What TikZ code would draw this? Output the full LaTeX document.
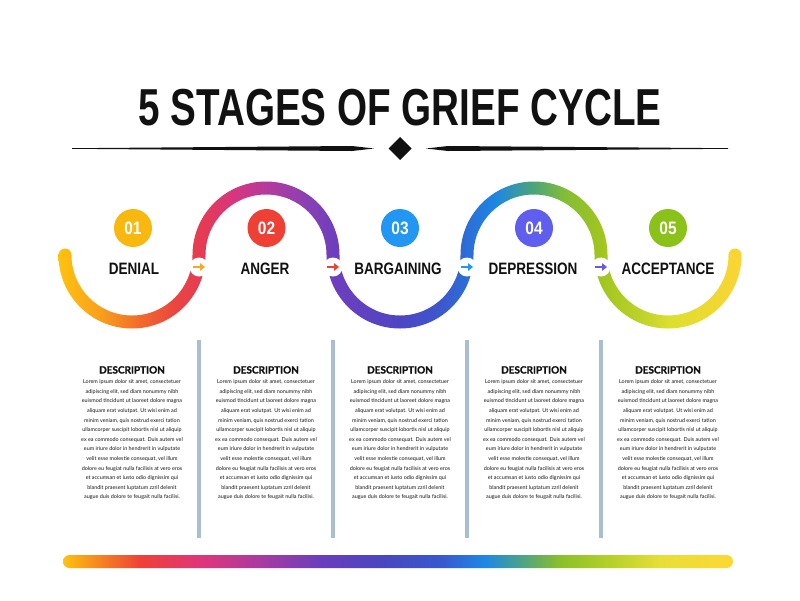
\documentclass[tikz,border=0pt]{standalone}
\usepackage{fontspec}
\setmainfont{Lato}
\newfontfamily\titlefont[FakeStretch=0.743]{Liberation Sans}
\newfontfamily\labfont[FakeStretch=0.82]{Liberation Sans}
\newfontfamily\numfont[FakeStretch=0.86]{Liberation Sans}
\newfontfamily\latofont{Lato}
\newfontfamily\latoheavy[FakeBold=1.2]{Lato}
\usetikzlibrary{arrows.meta}

\definecolor{titlec}{HTML}{111111}
\definecolor{bodyc}{HTML}{151515}
\definecolor{sepc}{HTML}{A9BED2}
\definecolor{c01}{HTML}{F9B80F}
\definecolor{c02}{HTML}{EE4035}
\definecolor{c03}{HTML}{2196F3}
\definecolor{c04}{HTML}{5F5EEF}
\definecolor{c05}{HTML}{8BC21A}
\definecolor{a01}{HTML}{F7A823}
\definecolor{a02}{HTML}{EF4136}
\definecolor{a03}{HTML}{2196F3}
\definecolor{a04}{HTML}{6A5AE0}

% wave colours
\definecolor{wa}{HTML}{FFC20E}
\definecolor{wb}{HTML}{F8A01C}
\definecolor{wc}{HTML}{F26A2B}
\definecolor{wd}{HTML}{EB4540}
\definecolor{we}{HTML}{E43A58}
\definecolor{wf}{HTML}{DA367A}
\definecolor{wg}{HTML}{B53A9C}
\definecolor{wh}{HTML}{9140B0}
\definecolor{wi}{HTML}{6D3FBE}
\definecolor{wj}{HTML}{4E45C3}
\definecolor{wk}{HTML}{3D57CD}
\definecolor{wl}{HTML}{2C6DD8}
\definecolor{wm}{HTML}{1E86E3}
\definecolor{wn}{HTML}{4BA677}
\definecolor{wo}{HTML}{84BD36}
\definecolor{wp}{HTML}{A0C520}
\definecolor{wq}{HTML}{BDD22A}
\definecolor{wr}{HTML}{DCDF30}
\definecolor{ws}{HTML}{FCD434}

% bar colours
\definecolor{ba}{HTML}{FFC20E}
\definecolor{bb}{HTML}{F7941D}
\definecolor{bc}{HTML}{EF4136}
\definecolor{bd}{HTML}{E0357A}
\definecolor{be}{HTML}{A93BA0}
\definecolor{bf}{HTML}{6A3DBD}
\definecolor{bg}{HTML}{4B46BF}
\definecolor{bh}{HTML}{3858CE}
\definecolor{bi}{HTML}{1E88E5}
\definecolor{bj}{HTML}{4AA28A}
\definecolor{bk}{HTML}{8BBF2A}
\definecolor{bl}{HTML}{B5D02A}
\definecolor{bm}{HTML}{E8DE38}
\definecolor{bn}{HTML}{FDD835}

\pgfdeclarehorizontalshading{waveshade}{100bp}{color(0bp)=(wa); color(25bp)=(wa); color(28.04bp)=(wb); color(30.97bp)=(wc); color(33.53bp)=(wd); color(35.72bp)=(we); color(37.55bp)=(wf); color(40.19bp)=(wg); color(42.68bp)=(wh); color(45.24bp)=(wi); color(50bp)=(wj); color(52.93bp)=(wk); color(54.83bp)=(wl); color(56.95bp)=(wm); color(59.81bp)=(wn); color(62.08bp)=(wo); color(64.64bp)=(wp); color(67.57bp)=(wq); color(69.77bp)=(wr); color(75bp)=(ws); color(100bp)=(ws)}

\pgfdeclarehorizontalshading{barshade}{100bp}{color(0bp)=(ba); color(25bp)=(ba); color(27.01bp)=(bb); color(30.75bp)=(bc); color(35.22bp)=(bd); color(39.70bp)=(be); color(44.18bp)=(bf); color(48.66bp)=(bg); color(53.13bp)=(bh); color(56.49bp)=(bi); color(59.10bp)=(bj); color(62.09bp)=(bk); color(65.82bp)=(bl); color(69.55bp)=(bm); color(75bp)=(bn); color(100bp)=(bn)}

\newcommand{\loremblock}{Lorem ipsum dolor sit amet, consectetuer\\
adipiscing elit, sed diam nonummy nibh\\
euismod tincidunt ut laoreet dolore magna\\
aliquam erat volutpat. Ut wisi enim ad\\
minim veniam, quis nostrud exerci tation\\
ullamcorper suscipit lobortis nisl ut aliquip\\
ex ea commodo consequat. Duis autem vel\\
eum iriure dolor in hendrerit in vulputate\\
velit esse molestie consequat, vel illum\\
dolore eu feugiat nulla facilisis at vero eros\\
et accumsan et iusto odio dignissim qui\\
blandit praesent luptatum zzril delenit\\
augue duis dolore te feugait nulla facilisi.}

\tikzset{
  numcirc/.style={circle, fill=#1, minimum size=38pt, inner sep=0pt, text=white,
    font=\numfont\bfseries\fontsize{18}{18}\selectfont},
  stagelabel/.style={anchor=base, inner sep=0pt, text=titlec,
    font=\labfont\bfseries\fontsize{16.5}{16.5}\selectfont},
  junction/.style={circle, fill=white, minimum size=19pt, inner sep=0pt},
  jarrow/.style={draw=#1, line width=2.4pt, -{Triangle[length=5pt,width=7.5pt,fill=#1]}},
  deschead/.style={anchor=base, inner sep=0pt, text=titlec,
    font=\latoheavy\bfseries\fontsize{10}{10}\selectfont},
  descbody/.style={anchor=north, inner sep=0pt, align=center, text=bodyc,
    font=\latofont\fontsize{5.4}{9.6}\selectfont},
  sepline/.style={draw=sepc, line width=4.5pt}
}

\begin{document}
\begin{tikzpicture}[x=1pt,y=-1pt]
\path[use as bounding box, fill=white] (0,0) rectangle (800,600);

% title
\node[anchor=base, inner sep=0pt, text=titlec,
      font=\titlefont\bfseries\fontsize{52}{52}\selectfont] (title) at (400,125) {5 STAGES OF GRIEF CYCLE};

% divider
\fill[titlec] (72,148.2) -- (352,146) -- (374,148.5) -- (352,151) -- (72,148.8) -- cycle;
\fill[titlec] (728,148.2) -- (448,146) -- (426,148.5) -- (448,151) -- (728,148.8) -- cycle;
\fill[titlec] (400,137) -- (411.5,148.5) -- (400,160) -- (388.5,148.5) -- cycle;

% wave band
\shade[shading=waveshade] (58.5,255)
  arc[start angle=180,end angle=0,radius=73.5]
  arc[start angle=180,end angle=360,radius=60.5]
  arc[start angle=180,end angle=0,radius=73.5]
  arc[start angle=180,end angle=360,radius=60.5]
  arc[start angle=180,end angle=0,radius=73.5]
  arc[start angle=0,end angle=-180,radius=6.5]
  arc[start angle=0,end angle=180,radius=60.5]
  arc[start angle=360,end angle=180,radius=73.5]
  arc[start angle=0,end angle=180,radius=60.5]
  arc[start angle=360,end angle=180,radius=73.5]
  arc[start angle=0,end angle=180,radius=60.5]
  arc[start angle=0,end angle=-180,radius=6.5] -- cycle;

% junctions
\node[junction] (j1) at (199,267) {};
\node[junction] (j2) at (333,267) {};
\node[junction] (j3) at (467,267) {};
\node[junction] (j4) at (601,267) {};
\draw[jarrow=a01] ([xshift=-6pt]j1.center) -- ([xshift=6pt]j1.center);
\draw[jarrow=a02] ([xshift=-6pt]j2.center) -- ([xshift=6pt]j2.center);
\draw[jarrow=a03] ([xshift=-6pt]j3.center) -- ([xshift=6pt]j3.center);
\draw[jarrow=a04] ([xshift=-6pt]j4.center) -- ([xshift=6pt]j4.center);

% number circles
\node[numcirc=c01] (n1) at (133,228) {01};
\node[numcirc=c02] (n2) at (266.5,228) {02};
\node[numcirc=c03] (n3) at (400,228) {03};
\node[numcirc=c04] (n4) at (534,228) {04};
\node[numcirc=c05] (n5) at (668,228) {05};

% stage labels
\node[stagelabel] (l1) at (134,274) {DENIAL};
\node[stagelabel] (l2) at (265,274) {ANGER};
\node[stagelabel] (l3) at (398,274) {BARGAINING};
\node[stagelabel] (l4) at (533,274) {DEPRESSION};
\node[stagelabel] (l5) at (668,274) {ACCEPTANCE};

% separators
\draw[sepline] (199,340) -- (199,538);
\draw[sepline] (333,340) -- (333,538);
\draw[sepline] (467,340) -- (467,538);
\draw[sepline] (601,340) -- (601,538);

% descriptions
\node[deschead] (h1) at (132,373.5) {DESCRIPTION};
\node[deschead] (h2) at (266,373.5) {DESCRIPTION};
\node[deschead] (h3) at (400,373.5) {DESCRIPTION};
\node[deschead] (h4) at (534,373.5) {DESCRIPTION};
\node[deschead] (h5) at (668,373.5) {DESCRIPTION};
\node[descbody] (t1) at (132,379.5) {\loremblock};
\node[descbody] (t2) at (266,379.5) {\loremblock};
\node[descbody] (t3) at (400,379.5) {\loremblock};
\node[descbody] (t4) at (534,379.5) {\loremblock};
\node[descbody] (t5) at (668,379.5) {\loremblock};

% bottom gradient bar
\shade[shading=barshade, rounded corners=6.5pt] (63,555) rectangle (733,568);
\end{tikzpicture}
\end{document}
